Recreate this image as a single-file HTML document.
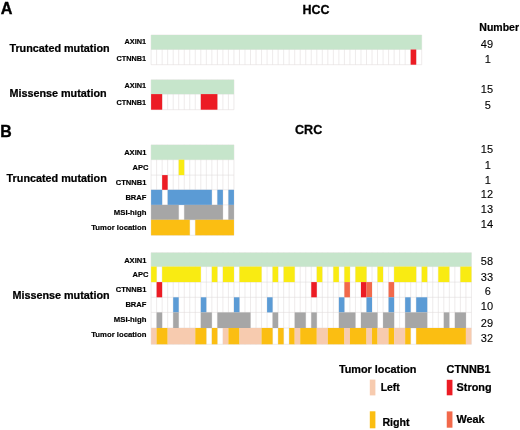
<!DOCTYPE html>
<html lang="en">
<head>
<meta charset="utf-8">
<title>AXIN1 and CTNNB1 mutations in HCC and CRC</title>
<style>
html,body{margin:0;padding:0;background:#fff;}
body{width:520px;height:430px;overflow:hidden;}
svg{display:block;font-family:"Liberation Sans",sans-serif;fill:#000;}
</style>
</head>
<body>
<svg width="520" height="430" viewBox="0 0 520 430">
<rect x="0" y="0" width="520" height="430" fill="#ffffff"/>
<path d="M151.10 35.00V64.70M156.62 35.00V64.70M162.15 35.00V64.70M167.67 35.00V64.70M173.19 35.00V64.70M178.72 35.00V64.70M184.24 35.00V64.70M189.76 35.00V64.70M195.28 35.00V64.70M200.81 35.00V64.70M206.33 35.00V64.70M211.85 35.00V64.70M217.38 35.00V64.70M222.90 35.00V64.70M228.42 35.00V64.70M233.94 35.00V64.70M239.47 35.00V64.70M244.99 35.00V64.70M250.51 35.00V64.70M256.04 35.00V64.70M261.56 35.00V64.70M267.08 35.00V64.70M272.61 35.00V64.70M278.13 35.00V64.70M283.65 35.00V64.70M289.17 35.00V64.70M294.70 35.00V64.70M300.22 35.00V64.70M305.74 35.00V64.70M311.27 35.00V64.70M316.79 35.00V64.70M322.31 35.00V64.70M327.84 35.00V64.70M333.36 35.00V64.70M338.88 35.00V64.70M344.40 35.00V64.70M349.93 35.00V64.70M355.45 35.00V64.70M360.97 35.00V64.70M366.50 35.00V64.70M372.02 35.00V64.70M377.54 35.00V64.70M383.07 35.00V64.70M388.59 35.00V64.70M394.11 35.00V64.70M399.63 35.00V64.70M405.16 35.00V64.70M410.68 35.00V64.70M416.20 35.00V64.70M421.73 35.00V64.70M151.10 35.00H421.73M151.10 49.50H421.73M151.10 64.70H421.73" stroke="#e0dada" stroke-width="0.55" fill="none"/>
<rect x="151.10" y="35.00" width="270.63" height="14.50" fill="#C6E5CB"/>
<rect x="410.68" y="49.50" width="5.52" height="15.20" fill="#EC1C24"/>
<path d="M151.10 79.80V109.70M156.62 79.80V109.70M162.15 79.80V109.70M167.67 79.80V109.70M173.19 79.80V109.70M178.72 79.80V109.70M184.24 79.80V109.70M189.76 79.80V109.70M195.28 79.80V109.70M200.81 79.80V109.70M206.33 79.80V109.70M211.85 79.80V109.70M217.38 79.80V109.70M222.90 79.80V109.70M228.42 79.80V109.70M233.94 79.80V109.70M151.10 79.80H233.94M151.10 94.10H233.94M151.10 109.70H233.94" stroke="#e0dada" stroke-width="0.55" fill="none"/>
<rect x="151.10" y="79.80" width="82.84" height="14.30" fill="#C6E5CB"/>
<rect x="151.10" y="94.10" width="11.05" height="15.60" fill="#EC1C24"/>
<rect x="200.81" y="94.10" width="16.57" height="15.60" fill="#EC1C24"/>
<path d="M151.10 144.90V235.30M156.62 144.90V235.30M162.15 144.90V235.30M167.67 144.90V235.30M173.19 144.90V235.30M178.72 144.90V235.30M184.24 144.90V235.30M189.76 144.90V235.30M195.28 144.90V235.30M200.81 144.90V235.30M206.33 144.90V235.30M211.85 144.90V235.30M217.38 144.90V235.30M222.90 144.90V235.30M228.42 144.90V235.30M233.94 144.90V235.30M151.10 144.90H233.94M151.10 159.70H233.94M151.10 175.10H233.94M151.10 189.80H233.94M151.10 204.90H233.94M151.10 219.80H233.94M151.10 235.30H233.94" stroke="#e0dada" stroke-width="0.55" fill="none"/>
<rect x="151.10" y="144.90" width="82.84" height="14.80" fill="#C6E5CB"/>
<rect x="178.72" y="159.70" width="5.52" height="15.40" fill="#F9EB12"/>
<rect x="162.15" y="175.10" width="5.52" height="14.70" fill="#EC1C24"/>
<rect x="151.10" y="189.80" width="11.05" height="15.10" fill="#5B9BD5"/>
<rect x="167.67" y="189.80" width="44.18" height="15.10" fill="#5B9BD5"/>
<rect x="217.38" y="189.80" width="5.52" height="15.10" fill="#5B9BD5"/>
<rect x="228.42" y="189.80" width="5.52" height="15.10" fill="#5B9BD5"/>
<rect x="151.10" y="204.90" width="27.61" height="14.90" fill="#A6A6A6"/>
<rect x="184.24" y="204.90" width="38.66" height="14.90" fill="#A6A6A6"/>
<rect x="228.42" y="204.90" width="5.52" height="14.90" fill="#A6A6A6"/>
<rect x="151.10" y="219.80" width="38.66" height="15.50" fill="#FBBE12"/>
<rect x="195.28" y="219.80" width="38.66" height="15.50" fill="#FBBE12"/>
<path d="M151.10 252.70V344.30M156.62 252.70V344.30M162.15 252.70V344.30M167.67 252.70V344.30M173.19 252.70V344.30M178.72 252.70V344.30M184.24 252.70V344.30M189.76 252.70V344.30M195.28 252.70V344.30M200.81 252.70V344.30M206.33 252.70V344.30M211.85 252.70V344.30M217.38 252.70V344.30M222.90 252.70V344.30M228.42 252.70V344.30M233.94 252.70V344.30M239.47 252.70V344.30M244.99 252.70V344.30M250.51 252.70V344.30M256.04 252.70V344.30M261.56 252.70V344.30M267.08 252.70V344.30M272.61 252.70V344.30M278.13 252.70V344.30M283.65 252.70V344.30M289.17 252.70V344.30M294.70 252.70V344.30M300.22 252.70V344.30M305.74 252.70V344.30M311.27 252.70V344.30M316.79 252.70V344.30M322.31 252.70V344.30M327.84 252.70V344.30M333.36 252.70V344.30M338.88 252.70V344.30M344.40 252.70V344.30M349.93 252.70V344.30M355.45 252.70V344.30M360.97 252.70V344.30M366.50 252.70V344.30M372.02 252.70V344.30M377.54 252.70V344.30M383.07 252.70V344.30M388.59 252.70V344.30M394.11 252.70V344.30M399.63 252.70V344.30M405.16 252.70V344.30M410.68 252.70V344.30M416.20 252.70V344.30M421.73 252.70V344.30M427.25 252.70V344.30M432.77 252.70V344.30M438.30 252.70V344.30M443.82 252.70V344.30M449.34 252.70V344.30M454.87 252.70V344.30M460.39 252.70V344.30M465.91 252.70V344.30M471.43 252.70V344.30M151.10 252.70H471.43M151.10 266.60H471.43M151.10 282.10H471.43M151.10 297.30H471.43M151.10 312.40H471.43M151.10 328.00H471.43M151.10 344.30H471.43" stroke="#e0dada" stroke-width="0.55" fill="none"/>
<rect x="151.10" y="252.70" width="320.33" height="13.90" fill="#C6E5CB"/>
<rect x="151.10" y="266.60" width="5.52" height="15.50" fill="#F9EB12"/>
<rect x="162.15" y="266.60" width="38.66" height="15.50" fill="#F9EB12"/>
<rect x="211.85" y="266.60" width="5.52" height="15.50" fill="#F9EB12"/>
<rect x="222.90" y="266.60" width="11.05" height="15.50" fill="#F9EB12"/>
<rect x="239.47" y="266.60" width="22.09" height="15.50" fill="#F9EB12"/>
<rect x="272.61" y="266.60" width="5.52" height="15.50" fill="#F9EB12"/>
<rect x="283.65" y="266.60" width="11.05" height="15.50" fill="#F9EB12"/>
<rect x="316.79" y="266.60" width="5.52" height="15.50" fill="#F9EB12"/>
<rect x="333.36" y="266.60" width="5.52" height="15.50" fill="#F9EB12"/>
<rect x="344.40" y="266.60" width="5.52" height="15.50" fill="#F9EB12"/>
<rect x="355.45" y="266.60" width="11.05" height="15.50" fill="#F9EB12"/>
<rect x="377.54" y="266.60" width="5.52" height="15.50" fill="#F9EB12"/>
<rect x="394.11" y="266.60" width="22.09" height="15.50" fill="#F9EB12"/>
<rect x="421.73" y="266.60" width="5.52" height="15.50" fill="#F9EB12"/>
<rect x="438.30" y="266.60" width="11.05" height="15.50" fill="#F9EB12"/>
<rect x="460.39" y="266.60" width="11.05" height="15.50" fill="#F9EB12"/>
<rect x="156.62" y="282.10" width="5.52" height="15.20" fill="#EC1C24"/>
<rect x="311.27" y="282.10" width="5.52" height="15.20" fill="#EC1C24"/>
<rect x="344.40" y="282.10" width="5.52" height="15.20" fill="#F2694B"/>
<rect x="360.97" y="282.10" width="5.52" height="15.20" fill="#EC1C24"/>
<rect x="366.50" y="282.10" width="5.52" height="15.20" fill="#F2694B"/>
<rect x="388.59" y="282.10" width="5.52" height="15.20" fill="#F2694B"/>
<rect x="173.19" y="297.30" width="5.52" height="15.10" fill="#5B9BD5"/>
<rect x="200.81" y="297.30" width="5.52" height="15.10" fill="#5B9BD5"/>
<rect x="233.94" y="297.30" width="5.52" height="15.10" fill="#5B9BD5"/>
<rect x="267.08" y="297.30" width="5.52" height="15.10" fill="#5B9BD5"/>
<rect x="338.88" y="297.30" width="5.52" height="15.10" fill="#5B9BD5"/>
<rect x="366.50" y="297.30" width="5.52" height="15.10" fill="#5B9BD5"/>
<rect x="388.59" y="297.30" width="5.52" height="15.10" fill="#5B9BD5"/>
<rect x="405.16" y="297.30" width="5.52" height="15.10" fill="#5B9BD5"/>
<rect x="416.20" y="297.30" width="11.05" height="15.10" fill="#5B9BD5"/>
<rect x="156.62" y="312.40" width="5.52" height="15.60" fill="#A6A6A6"/>
<rect x="173.19" y="312.40" width="5.52" height="15.60" fill="#A6A6A6"/>
<rect x="200.81" y="312.40" width="11.05" height="15.60" fill="#A6A6A6"/>
<rect x="217.38" y="312.40" width="33.14" height="15.60" fill="#A6A6A6"/>
<rect x="272.61" y="312.40" width="5.52" height="15.60" fill="#A6A6A6"/>
<rect x="294.70" y="312.40" width="11.05" height="15.60" fill="#A6A6A6"/>
<rect x="311.27" y="312.40" width="5.52" height="15.60" fill="#A6A6A6"/>
<rect x="338.88" y="312.40" width="16.57" height="15.60" fill="#A6A6A6"/>
<rect x="360.97" y="312.40" width="16.57" height="15.60" fill="#A6A6A6"/>
<rect x="383.07" y="312.40" width="11.05" height="15.60" fill="#A6A6A6"/>
<rect x="405.16" y="312.40" width="22.09" height="15.60" fill="#A6A6A6"/>
<rect x="443.82" y="312.40" width="5.52" height="15.60" fill="#A6A6A6"/>
<rect x="454.87" y="312.40" width="11.05" height="15.60" fill="#A6A6A6"/>
<rect x="151.10" y="328.00" width="5.52" height="16.30" fill="#F7CBAF"/>
<rect x="156.62" y="328.00" width="11.05" height="16.30" fill="#FBBE12"/>
<rect x="167.67" y="328.00" width="27.61" height="16.30" fill="#F7CBAF"/>
<rect x="195.28" y="328.00" width="11.05" height="16.30" fill="#FBBE12"/>
<rect x="211.85" y="328.00" width="5.52" height="16.30" fill="#FBBE12"/>
<rect x="222.90" y="328.00" width="5.52" height="16.30" fill="#F7CBAF"/>
<rect x="228.42" y="328.00" width="11.05" height="16.30" fill="#FBBE12"/>
<rect x="239.47" y="328.00" width="22.09" height="16.30" fill="#F7CBAF"/>
<rect x="261.56" y="328.00" width="11.05" height="16.30" fill="#FBBE12"/>
<rect x="278.13" y="328.00" width="5.52" height="16.30" fill="#FBBE12"/>
<rect x="289.17" y="328.00" width="5.52" height="16.30" fill="#FBBE12"/>
<rect x="294.70" y="328.00" width="5.52" height="16.30" fill="#F7CBAF"/>
<rect x="300.22" y="328.00" width="16.57" height="16.30" fill="#FBBE12"/>
<rect x="316.79" y="328.00" width="11.05" height="16.30" fill="#F7CBAF"/>
<rect x="327.84" y="328.00" width="16.57" height="16.30" fill="#FBBE12"/>
<rect x="344.40" y="328.00" width="5.52" height="16.30" fill="#F7CBAF"/>
<rect x="349.93" y="328.00" width="16.57" height="16.30" fill="#FBBE12"/>
<rect x="366.50" y="328.00" width="5.52" height="16.30" fill="#F7CBAF"/>
<rect x="372.02" y="328.00" width="5.52" height="16.30" fill="#FBBE12"/>
<rect x="377.54" y="328.00" width="11.05" height="16.30" fill="#F7CBAF"/>
<rect x="388.59" y="328.00" width="5.52" height="16.30" fill="#FBBE12"/>
<rect x="394.11" y="328.00" width="11.05" height="16.30" fill="#F7CBAF"/>
<rect x="405.16" y="328.00" width="5.52" height="16.30" fill="#FBBE12"/>
<rect x="416.20" y="328.00" width="49.71" height="16.30" fill="#FBBE12"/>
<rect x="465.91" y="328.00" width="5.52" height="16.30" fill="#F7CBAF"/>
<rect x="369.80" y="379.60" width="5.60" height="15.80" fill="#F7CBAF"/>
<rect x="369.80" y="411.30" width="5.60" height="17.00" fill="#FBBE12"/>
<rect x="446.75" y="379.80" width="5.70" height="15.50" fill="#EC1C24"/>
<rect x="446.75" y="411.40" width="5.70" height="16.30" fill="#F2694B"/>
<text x="0.75" y="14.00" font-size="16.2" text-anchor="start" font-weight="bold" stroke="#000" stroke-width="0.36">A</text>
<text x="0.20" y="137.10" font-size="15.9" text-anchor="start" font-weight="bold" stroke="#000" stroke-width="0.35">B</text>
<text x="316.10" y="13.55" font-size="12.5" text-anchor="middle" font-weight="bold" stroke="#000" stroke-width="0.27">HCC</text>
<text x="308.60" y="133.90" font-size="12.6" text-anchor="middle" font-weight="bold" stroke="#000" stroke-width="0.28">CRC</text>
<text x="9.40" y="51.90" font-size="10.8" text-anchor="start" font-weight="bold" stroke="#000" stroke-width="0.24">Truncated mutation</text>
<text x="9.40" y="96.90" font-size="10.8" text-anchor="start" font-weight="bold" stroke="#000" stroke-width="0.24">Missense mutation</text>
<text x="6.60" y="181.90" font-size="10.8" text-anchor="start" font-weight="bold" stroke="#000" stroke-width="0.24">Truncated mutation</text>
<text x="12.40" y="298.80" font-size="10.8" text-anchor="start" font-weight="bold" stroke="#000" stroke-width="0.24">Missense mutation</text>
<text x="146.00" y="43.91" font-size="7.3" text-anchor="end" font-weight="bold" stroke="#000" stroke-width="0.16">AXIN1</text>
<text x="146.00" y="61.11" font-size="7.3" text-anchor="end" font-weight="bold" stroke="#000" stroke-width="0.16">CTNNB1</text>
<text x="146.00" y="88.21" font-size="7.3" text-anchor="end" font-weight="bold" stroke="#000" stroke-width="0.16">AXIN1</text>
<text x="146.00" y="104.81" font-size="7.3" text-anchor="end" font-weight="bold" stroke="#000" stroke-width="0.16">CTNNB1</text>
<text x="146.40" y="155.15" font-size="7.55" text-anchor="end" font-weight="bold" stroke="#000" stroke-width="0.17">AXIN1</text>
<text x="148.40" y="170.10" font-size="7.55" text-anchor="end" font-weight="bold" stroke="#000" stroke-width="0.17">APC</text>
<text x="146.40" y="184.55" font-size="7.55" text-anchor="end" font-weight="bold" stroke="#000" stroke-width="0.17">CTNNB1</text>
<text x="146.40" y="200.30" font-size="7.55" text-anchor="end" font-weight="bold" stroke="#000" stroke-width="0.17">BRAF</text>
<text x="146.40" y="214.61" font-size="7.72" text-anchor="end" font-weight="bold" stroke="#000" stroke-width="0.17">MSI-high</text>
<text x="146.40" y="230.46" font-size="7.72" text-anchor="end" font-weight="bold" stroke="#000" stroke-width="0.17">Tumor location</text>
<text x="146.40" y="262.75" font-size="7.55" text-anchor="end" font-weight="bold" stroke="#000" stroke-width="0.17">AXIN1</text>
<text x="148.40" y="277.00" font-size="7.55" text-anchor="end" font-weight="bold" stroke="#000" stroke-width="0.17">APC</text>
<text x="146.40" y="291.70" font-size="7.55" text-anchor="end" font-weight="bold" stroke="#000" stroke-width="0.17">CTNNB1</text>
<text x="146.40" y="307.20" font-size="7.55" text-anchor="end" font-weight="bold" stroke="#000" stroke-width="0.17">BRAF</text>
<text x="146.40" y="321.66" font-size="7.72" text-anchor="end" font-weight="bold" stroke="#000" stroke-width="0.17">MSI-high</text>
<text x="146.40" y="337.26" font-size="7.72" text-anchor="end" font-weight="bold" stroke="#000" stroke-width="0.17">Tumor location</text>
<text x="479.30" y="30.80" font-size="10.5" text-anchor="start" font-weight="bold" stroke="#000" stroke-width="0.23">Number</text>
<text x="486.90" y="47.64" font-size="11.0" text-anchor="middle" font-weight="normal" stroke="#000" stroke-width="0.1">49</text>
<text x="487.70" y="63.34" font-size="11.0" text-anchor="middle" font-weight="normal" stroke="#000" stroke-width="0.1">1</text>
<text x="486.90" y="93.24" font-size="11.0" text-anchor="middle" font-weight="normal" stroke="#000" stroke-width="0.1">15</text>
<text x="487.70" y="108.64" font-size="11.0" text-anchor="middle" font-weight="normal" stroke="#000" stroke-width="0.1">5</text>
<text x="486.90" y="153.24" font-size="11.0" text-anchor="middle" font-weight="normal" stroke="#000" stroke-width="0.1">15</text>
<text x="487.70" y="168.84" font-size="11.0" text-anchor="middle" font-weight="normal" stroke="#000" stroke-width="0.1">1</text>
<text x="487.70" y="183.94" font-size="11.0" text-anchor="middle" font-weight="normal" stroke="#000" stroke-width="0.1">1</text>
<text x="486.90" y="198.14" font-size="11.0" text-anchor="middle" font-weight="normal" stroke="#000" stroke-width="0.1">12</text>
<text x="486.90" y="213.24" font-size="11.0" text-anchor="middle" font-weight="normal" stroke="#000" stroke-width="0.1">13</text>
<text x="486.90" y="228.34" font-size="11.0" text-anchor="middle" font-weight="normal" stroke="#000" stroke-width="0.1">14</text>
<text x="486.90" y="264.84" font-size="11.0" text-anchor="middle" font-weight="normal" stroke="#000" stroke-width="0.1">58</text>
<text x="486.90" y="280.54" font-size="11.0" text-anchor="middle" font-weight="normal" stroke="#000" stroke-width="0.1">33</text>
<text x="487.70" y="295.34" font-size="11.0" text-anchor="middle" font-weight="normal" stroke="#000" stroke-width="0.1">6</text>
<text x="486.90" y="310.34" font-size="11.0" text-anchor="middle" font-weight="normal" stroke="#000" stroke-width="0.1">10</text>
<text x="486.90" y="326.84" font-size="11.0" text-anchor="middle" font-weight="normal" stroke="#000" stroke-width="0.1">29</text>
<text x="486.90" y="342.44" font-size="11.0" text-anchor="middle" font-weight="normal" stroke="#000" stroke-width="0.1">32</text>
<text x="338.90" y="372.70" font-size="10.85" text-anchor="start" font-weight="bold" stroke="#000" stroke-width="0.24">Tumor location</text>
<text x="446.60" y="372.70" font-size="10.85" text-anchor="start" font-weight="bold" stroke="#000" stroke-width="0.24">CTNNB1</text>
<text x="380.70" y="391.00" font-size="10.4" text-anchor="start" font-weight="bold" stroke="#000" stroke-width="0.23">Left</text>
<text x="382.40" y="425.80" font-size="10.65" text-anchor="start" font-weight="bold" stroke="#000" stroke-width="0.23">Right</text>
<text x="456.60" y="391.00" font-size="10.85" text-anchor="start" font-weight="bold" stroke="#000" stroke-width="0.24">Strong</text>
<text x="456.40" y="423.30" font-size="10.85" text-anchor="start" font-weight="bold" stroke="#000" stroke-width="0.24">Weak</text>
</svg>
</body>
</html>
